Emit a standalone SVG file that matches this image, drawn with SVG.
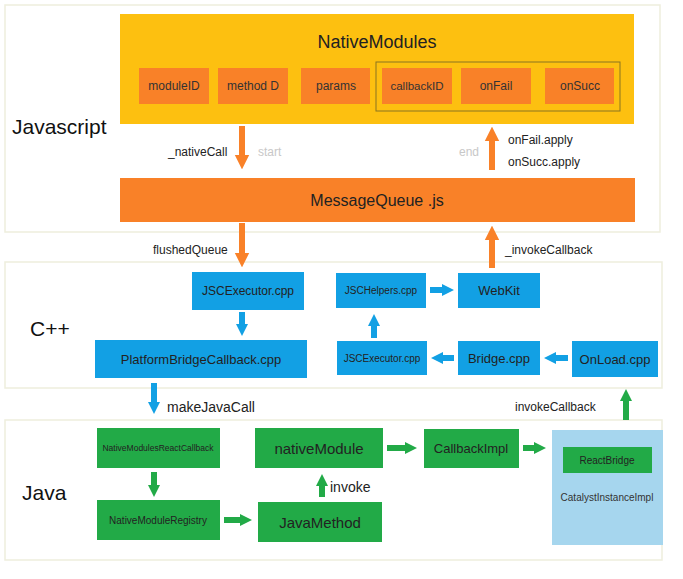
<svg xmlns="http://www.w3.org/2000/svg" width="683" height="579" viewBox="0 0 683 579">
<style>
text{font-family:"Liberation Sans",Arial,sans-serif;text-anchor:middle;dominant-baseline:central;font-size:12px}
.panel{fill:#fff;stroke:#eeeedd;stroke-width:1.5}
.or{fill:#F98128}.bl{fill:#12A0E4}.gr{fill:#22AA47}
.t{fill:#333}.tw{fill:#222}
.lab{fill:#222;text-anchor:start}
.sec{font-size:21px;fill:#111;text-anchor:start}
.ao{stroke:#F98128;stroke-width:6;fill:none}
.ab{stroke:#12A0E4;stroke-width:6;fill:none}
.ag{stroke:#22AA47;stroke-width:6;fill:none}
</style>
<defs>
<marker id="mo" viewBox="0 0 10 10" refX="0" refY="5" markerWidth="2.4" markerHeight="2.6" orient="auto"><path d="M0,0L10,5L0,10z" fill="#F98128"/></marker>
<marker id="mb" viewBox="0 0 10 10" refX="0" refY="5" markerWidth="2" markerHeight="2.4" orient="auto"><path d="M0,0L10,5L0,10z" fill="#12A0E4"/></marker>
<marker id="mg" viewBox="0 0 10 10" refX="0" refY="5" markerWidth="2" markerHeight="2.6" orient="auto"><path d="M0,0L10,5L0,10z" fill="#22AA47"/></marker>
</defs>
<rect width="683" height="579" fill="#fff"/>
<g id="panels">
<rect class="panel" x="5" y="5" width="655" height="227"/>
<rect class="panel" x="5" y="262" width="657" height="126"/>
<rect class="panel" x="5" y="420" width="657" height="140"/>
<text class="sec" x="12" y="126">Javascript</text>
<text class="sec" x="30" y="328">C++</text>
<text class="sec" x="22" y="492">Java</text>
</g>
<g id="NativeModules">
<rect x="120" y="14" width="514" height="110" fill="#FDC010"/>
<text x="377" y="42" style="font-size:18px" fill="#222">NativeModules</text>
<rect x="376" y="62" width="244" height="49" fill="none" stroke="#8a7420" stroke-width="1"/>
</g>
<g id="moduleID"><rect class="or" x="139" y="68" width="70" height="36"/><text class="t" x="174" y="86">moduleID</text></g>
<g id="methodID"><rect class="or" x="218" y="68" width="70" height="36"/><text class="t" x="253" y="86">method D</text></g>
<g id="params"><rect class="or" x="301" y="68" width="69" height="36"/><text class="t" x="336" y="86">params</text></g>
<g id="callbackID"><rect class="or" x="382" y="68" width="70" height="36"/><text class="t" x="417" y="86" style="font-size:11.5px">callbackID</text></g>
<g id="onFail"><rect class="or" x="461" y="68" width="70" height="36"/><text class="t" x="496" y="86">onFail</text></g>
<g id="onSucc"><rect class="or" x="545" y="68" width="69" height="36"/><text class="t" x="580" y="86">onSucc</text></g>
<g id="MessageQueue"><rect class="or" x="120" y="178" width="515" height="44"/><text x="377" y="200" style="font-size:16px" fill="#222">MessageQueue .js</text></g>
<g id="JSCExecutor1"><rect class="bl" x="192" y="272" width="112" height="38"/><text class="tw" x="248" y="291">JSCExecutor.cpp</text></g>
<g id="PlatformBridgeCallback"><rect class="bl" x="95" y="340" width="212" height="38"/><text class="tw" x="201" y="359" style="font-size:13px">PlatformBridgeCallback.cpp</text></g>
<g id="JSCHelpers"><rect class="bl" x="336" y="273" width="90" height="35"/><text class="tw" x="381" y="290" style="font-size:10px">JSCHelpers.cpp</text></g>
<g id="WebKit"><rect class="bl" x="458" y="273" width="82" height="35"/><text class="tw" x="499" y="290" style="font-size:13px">WebKit</text></g>
<g id="JSCExecutor2"><rect class="bl" x="337" y="341" width="90" height="34"/><text class="tw" x="382" y="358" style="font-size:10px">JSCExecutor.cpp</text></g>
<g id="Bridge"><rect class="bl" x="458" y="341" width="82" height="34"/><text class="tw" x="499" y="358" style="font-size:13px">Bridge.cpp</text></g>
<g id="OnLoad"><rect class="bl" x="572" y="341" width="86" height="36"/><text class="tw" x="615" y="359" style="font-size:13px">OnLoad.cpp</text></g>
<g id="NativeModulesReactCallback"><rect class="gr" x="97" y="428" width="123" height="40"/><text class="tw" x="158" y="448" style="font-size:8.5px">NativeModulesReactCallback</text></g>
<g id="NativeModuleRegistry"><rect class="gr" x="97" y="500" width="123" height="40"/><text class="tw" x="158" y="520" style="font-size:10px">NativeModuleRegistry</text></g>
<g id="nativeModule"><rect class="gr" x="255" y="428" width="128" height="40"/><text class="tw" x="319" y="448" style="font-size:15px">nativeModule</text></g>
<g id="JavaMethod"><rect class="gr" x="258" y="502" width="124" height="40"/><text class="tw" x="320" y="522" style="font-size:15px">JavaMethod</text></g>
<g id="CallbackImpl"><rect class="gr" x="424" y="429" width="95" height="39"/><text class="tw" x="471" y="448" style="font-size:13px">CallbackImpl</text></g>
<g id="CatalystInstanceImpl"><rect x="552" y="430" width="111" height="115" fill="#A6D6EE"/><text class="t" x="607" y="497" style="font-size:10px">CatalystInstanceImpl</text>
<g id="ReactBridge"><rect class="gr" x="563" y="447" width="89" height="26"/><text class="tw" x="607" y="460" style="font-size:10px">ReactBridge</text></g></g>
<g id="connectors">
<line class="ao" x1="242" y1="126" x2="242" y2="155" marker-end="url(#mo)"/>
<line class="ao" x1="492" y1="170" x2="492" y2="141" marker-end="url(#mo)"/>
<line class="ao" x1="242" y1="223" x2="242" y2="253" marker-end="url(#mo)"/>
<line class="ao" x1="492" y1="268" x2="492" y2="240" marker-end="url(#mo)"/>
<line class="ab" x1="242" y1="312" x2="242" y2="324" marker-end="url(#mb)"/>
<line class="ab" x1="374" y1="338" x2="374" y2="326" marker-end="url(#mb)"/>
<line class="ab" x1="430" y1="290" x2="442" y2="290" marker-end="url(#mb)"/>
<line class="ab" x1="568" y1="358" x2="556" y2="358" marker-end="url(#mb)"/>
<line class="ab" x1="454" y1="358" x2="443" y2="358" marker-end="url(#mb)"/>
<line class="ab" x1="154" y1="383" x2="154" y2="402" marker-end="url(#mb)"/>
<line class="ag" x1="626" y1="420" x2="626" y2="401" marker-end="url(#mg)"/>
<line class="ag" x1="154" y1="472" x2="154" y2="485" marker-end="url(#mg)"/>
<line class="ag" x1="224" y1="520" x2="240" y2="520" marker-end="url(#mg)"/>
<line class="ag" x1="322" y1="497" x2="322" y2="486" marker-end="url(#mg)"/>
<line class="ag" x1="387" y1="448" x2="405" y2="448" marker-end="url(#mg)"/>
<line class="ag" x1="523" y1="448" x2="534" y2="448" marker-end="url(#mg)"/>
<text class="lab" x="168" y="152">_nativeCall</text>
<text class="lab" x="258" y="152" style="fill:#c8c8c8">start</text>
<text class="lab" x="459" y="152" style="fill:#c8c8c8">end</text>
<text class="lab" x="508" y="140">onFail.apply</text>
<text class="lab" x="508" y="162">onSucc.apply</text>
<text class="lab" x="153" y="250">flushedQueue</text>
<text class="lab" x="505" y="250">_invokeCallback</text>
<text class="lab" x="167" y="407" style="font-size:14px">makeJavaCall</text>
<text class="lab" x="515" y="407">invokeCallback</text>
<text class="lab" x="330" y="487" style="font-size:14px">invoke</text>
</g>
</svg>
